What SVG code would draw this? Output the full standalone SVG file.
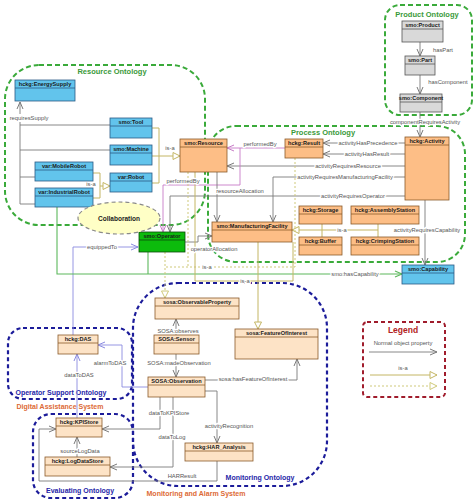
<svg xmlns="http://www.w3.org/2000/svg" width="474" height="503" viewBox="0 0 474 503">
<style>
.n text{font-family:"Liberation Sans",Arial,sans-serif;font-weight:bold;font-size:5.6px;fill:#1a1a1a;text-anchor:middle}
.n rect,.n path{stroke-width:0.8}
.nb rect{fill:#62c4ec;stroke:#2b5b86}.nb path{stroke:#2b5b86}
.no rect{fill:#fdbe86;stroke:#8a5a2a}.no path{stroke:#8a5a2a}
.ng rect{fill:#d9d9d9;stroke:#555}.ng path{stroke:#555}
.np rect{fill:#fde3c6;stroke:#8a5a2a}.np path{stroke:#8a5a2a}
.nop rect{fill:#0cbb0c;stroke:#0a4a0a}.nop path{stroke:#0a4a0a}
.lb{font-family:"Liberation Sans",Arial,sans-serif;font-size:5.8px;fill:#555;text-anchor:middle;paint-order:stroke;stroke:#fff;stroke-width:2.5px;stroke-linejoin:round}
.tg{font-family:"Liberation Sans",Arial,sans-serif;font-weight:bold;font-size:7.5px;fill:#3a9a3a;text-anchor:middle}
.tb{font-family:"Liberation Sans",Arial,sans-serif;font-weight:bold;font-size:7px;fill:#2626a8;text-anchor:middle}
.tr{font-family:"Liberation Sans",Arial,sans-serif;font-weight:bold;font-size:7px;fill:#dd6a36;text-anchor:middle}
.bg{fill:none;stroke:#3aaa3a;stroke-width:2;stroke-dasharray:5,3}
.bb{fill:none;stroke:#1c1c9a;stroke-width:2.2;stroke-dasharray:4,3}
.cg{stroke:#7a7a7a;stroke-width:0.9}
.cp{stroke:#c77cc7;stroke-width:0.9}
.cb{stroke:#8a8ae0;stroke-width:0.9}
.cgr{stroke:#5cb85c;stroke-width:1.1}
.co{stroke:#c4b664;stroke-width:1}
.cd{stroke:#cfc97a;stroke-width:1;stroke-dasharray:2,2}
</style>
<defs>
<marker id="ag" markerUnits="userSpaceOnUse" markerWidth="10" markerHeight="8" refX="8" refY="4" orient="auto"><path d="M1 1L8 4L1 7" fill="none" stroke="#7a7a7a" stroke-width="1"/></marker>
<marker id="ap" markerUnits="userSpaceOnUse" markerWidth="10" markerHeight="8" refX="8" refY="4" orient="auto"><path d="M1 1L8 4L1 7" fill="none" stroke="#c77cc7" stroke-width="1"/></marker>
<marker id="ab" markerUnits="userSpaceOnUse" markerWidth="10" markerHeight="8" refX="8" refY="4" orient="auto"><path d="M1 1L8 4L1 7" fill="none" stroke="#8a8ae0" stroke-width="1"/></marker>
<marker id="agr" markerUnits="userSpaceOnUse" markerWidth="10" markerHeight="8" refX="8" refY="4" orient="auto"><path d="M1 1L8 4L1 7" fill="none" stroke="#5cb85c" stroke-width="1.1"/></marker>
<marker id="tri" markerUnits="userSpaceOnUse" markerWidth="10" markerHeight="9" refX="8" refY="4.5" orient="auto"><path d="M1 1L8 4.5L1 8Z" fill="#fff" stroke="#c4b664" stroke-width="1"/></marker>
<marker id="trd" markerUnits="userSpaceOnUse" markerWidth="10" markerHeight="9" refX="8" refY="4.5" orient="auto"><path d="M1 1L8 4.5L1 8Z" fill="#fff" stroke="#cfc97a" stroke-width="1"/></marker>
</defs>
<rect width="474" height="503" fill="#fff"/>

<g id="boundaries">
<rect class="bg" x="5" y="65" width="200" height="160" rx="34"/>
<text class="tg" x="112" y="74">Resource Ontology</text>
<rect class="bg" x="385" y="5" width="87" height="110" rx="15"/>
<text class="tg" x="427" y="17">Product Ontology</text>
<rect class="bg" x="208" y="126" width="257" height="136" rx="28"/>
<text class="tg" x="323" y="135">Process Ontology</text>
<rect class="bb" x="133" y="283" width="194" height="203" rx="45"/>
<text class="tb" x="260" y="479.5">Monitoring Ontology</text>
<text class="tr" x="196" y="495.5">Monitoring and Alarm System</text>
<rect class="bb" x="8" y="328" width="124" height="71" rx="15"/>
<text class="tb" x="61" y="394.5">Operator Support Ontology</text>
<text class="tr" x="60" y="408.5">Digital Assistance System</text>
<rect class="bb" x="33" y="414" width="100" height="84" rx="18"/>
<text class="tb" x="80" y="492.5">Evaluating Ontology</text>
</g>

<g id="legend">
<rect x="363" y="322" width="82" height="75" rx="4" fill="none" stroke="#a01c2c" stroke-width="2" stroke-dasharray="4,3"/>
<text x="403" y="333" font-family="Liberation Sans, Arial, sans-serif" font-weight="bold" font-size="8.5" fill="#b22222" text-anchor="middle">Legend</text>
<text class="lb" x="403" y="345">Normal object property</text>
<path class="cg" d="M369 352H437" fill="none" marker-end="url(#ag)"/>
<text class="lb" x="403" y="370">is-a</text>
<path class="co" d="M370 375H437" fill="none" marker-end="url(#tri)"/>
<path class="cd" d="M370 386H437" fill="none" marker-end="url(#trd)"/>
</g>

<g id="connectors" fill="none">
<path class="cg" d="M20 114V102" marker-end="url(#ag)"/>
<path class="cg" d="M20 122V204H35M20 125H110M20 150H110M20 177H35"/>
<path class="co" d="M93 173H100V198H93M100 186H110" marker-end="url(#tri)"/>
<path class="co" d="M152 128H159V183H152M152 156H180" stroke-width="1.4" marker-end="url(#tri)"/>
<path class="cg" d="M420 42V56" marker-end="url(#ag)"/>
<path class="cg" d="M420 75V94" marker-end="url(#ag)"/>
<path class="cg" d="M420 112V137" marker-end="url(#ag)"/>
<path class="cg" d="M405 143H323" marker-end="url(#ag)"/>
<path class="cg" d="M405 154H323" marker-end="url(#ag)"/>
<path class="cg" d="M405 166H227" marker-end="url(#ag)"/>
<path class="cg" d="M405 177H273V222" marker-end="url(#ag)"/>
<path class="cg" d="M405 196H170V232" marker-end="url(#ag)"/>
<path class="cg" d="M425 200V265" marker-end="url(#ag)"/>
<path class="cp" d="M285 148H227" marker-end="url(#ap)"/>
<path class="cp" d="M240 148V185H163V232" marker-end="url(#ap)"/>
<path class="cg" d="M217 172V222" marker-end="url(#ag)"/>
<path class="cg" d="M185 242H198V236H212" marker-end="url(#ag)"/>
<path class="cb" d="M73 335V247H138" marker-end="url(#ab)"/>
<path class="co" d="M322 224V237M378 224V237M378 230H292" marker-end="url(#tri)"/>
<path class="cgr" d="M148 252V274"/>
<path class="cgr" d="M57 207V274H402" marker-end="url(#agr)"/>
<path class="cd" d="M188 172V267M295 158V267H165M165 252V298" marker-end="url(#trd)"/>
<path class="co" d="M195 172V281H293V242"/>
<path class="co" d="M258 242V329" marker-end="url(#tri)"/>
<path class="cg" d="M176 335V319" marker-end="url(#ag)"/>
<path class="cg" d="M176 354V377" marker-end="url(#ag)"/>
<path class="cg" d="M205 380H297V359" marker-end="url(#ag)"/>
<path class="cg" d="M205 391H217V443" marker-end="url(#ag)"/>
<path class="cg" d="M217 461V481H39V429H56" marker-end="url(#ag)"/>
<path class="cg" d="M160 397V429H102" marker-end="url(#ag)"/>
<path class="cg" d="M173 397V467H110" marker-end="url(#ag)"/>
<path class="cg" d="M77 457V437" marker-end="url(#ag)"/>
<path class="cb" d="M148 387H122V345H98" marker-end="url(#ab)"/>
<path class="cb" d="M77 418V354" marker-end="url(#ab)"/>
</g>

<g id="connector-labels">
<text class="lb" x="29" y="120">requiresSupply</text>
<text class="lb" x="91" y="186">is-a</text>
<text class="lb" x="170" y="150">is-a</text>
<text class="lb" x="443" y="52">hasPart</text>
<text class="lb" x="448" y="84">hasComponent</text>
<text class="lb" x="425" y="124">componentRequiresActivity</text>
<text class="lb" x="368" y="145">activityHasPrecedence</text>
<text class="lb" x="367" y="156">activityHasResult</text>
<text class="lb" x="348" y="168">activityRequiresResource</text>
<text class="lb" x="345" y="179">activityRequiresManufacturingFacility</text>
<text class="lb" x="353" y="198">activityRequiresOperator</text>
<text class="lb" x="427" y="232">activityRequiresCapability</text>
<text class="lb" x="260" y="146">performedBy</text>
<text class="lb" x="183" y="183">performedBy</text>
<text class="lb" x="240" y="193">resourceAllocation</text>
<text class="lb" x="214" y="251">operatorAllocation</text>
<text class="lb" x="102" y="249">equippedTo</text>
<text class="lb" x="342" y="232">is-a</text>
<text class="lb" x="355" y="276">smo:hasCapability</text>
<text class="lb" x="207" y="269">is-a</text>
<text class="lb" x="245" y="283">is-a</text>
<text class="lb" x="178" y="333">SOSA:observes</text>
<text class="lb" x="179" y="365">SOSA:madeObservation</text>
<text class="lb" x="253" y="381">sosa:hasFeatureOfInterest</text>
<text class="lb" x="229" y="428">activityRecognition</text>
<text class="lb" x="182" y="478">HARResult</text>
<text class="lb" x="169" y="415">dataToKPIStore</text>
<text class="lb" x="172" y="439">dataToLog</text>
<text class="lb" x="80" y="453">sourceLogData</text>
<text class="lb" x="110" y="365">alarmToDAS</text>
<text class="lb" x="79" y="377">dataToDAS</text>
</g>

<g id="n-energysupply" class="n nb"><rect x="15" y="80" width="60" height="21"/><path d="M15 88h60"/><text x="45" y="86">hckg:EnergySupply</text></g>
<g id="n-tool" class="n nb"><rect x="110" y="118" width="42" height="20"/><path d="M110 126h42"/><text x="131" y="124">smo:Tool</text></g>
<g id="n-machine" class="n nb"><rect x="110" y="145" width="42" height="20"/><path d="M110 153h42"/><text x="131" y="151">smo:Machine</text></g>
<g id="n-robot" class="n nb"><rect x="110" y="173" width="42" height="19"/><path d="M110 181h42"/><text x="131" y="179">var:Robot</text></g>
<g id="n-mobilerobot" class="n nb"><rect x="35" y="162" width="58" height="19"/><path d="M35 170h58"/><text x="64" y="168">var:MobileRobot</text></g>
<g id="n-industrialrobot" class="n nb"><rect x="35" y="188" width="58" height="19"/><path d="M35 196h58"/><text x="64" y="194">var:IndustrialRobot</text></g>
<g id="n-capability" class="n nb"><rect x="402" y="265" width="52" height="19"/><path d="M402 273h52"/><text x="428" y="271">smo:Capability</text></g>

<g id="n-resource" class="n no"><rect x="180" y="139" width="47" height="33"/><path d="M180 147h47"/><text x="203.5" y="145">smo:Resource</text></g>
<g id="n-result" class="n no"><rect x="285" y="139" width="38" height="19"/><path d="M285 147h38"/><text x="304" y="145">hckg:Result</text></g>
<g id="n-activity" class="n no"><rect x="405" y="137" width="44" height="63"/><path d="M405 145h44"/><text x="427" y="143">hckg:Activity</text></g>
<g id="n-mfg" class="n no"><rect x="212" y="222" width="80" height="20"/><path d="M212 230h80"/><text x="252" y="228">smo:ManufacturingFacility</text></g>
<g id="n-storage" class="n no"><rect x="299" y="206" width="43" height="18"/><path d="M299 214h43"/><text x="320.5" y="212">hckg:Storage</text></g>
<g id="n-assembly" class="n no"><rect x="351" y="206" width="68" height="18"/><path d="M351 214h68"/><text x="385" y="212">hckg:AssemblyStation</text></g>
<g id="n-buffer" class="n no"><rect x="299" y="237" width="43" height="18"/><path d="M299 245h43"/><text x="320.5" y="243">hckg:Buffer</text></g>
<g id="n-crimping" class="n no"><rect x="351" y="237" width="68" height="18"/><path d="M351 245h68"/><text x="385" y="243">hckg:CrimpingStation</text></g>

<g id="n-product" class="n ng"><rect x="402" y="21" width="41" height="21"/><path d="M402 29h41"/><text x="422.5" y="27">smo:Product</text></g>
<g id="n-part" class="n ng"><rect x="405" y="56" width="30" height="19"/><path d="M405 64h30"/><text x="420" y="62">smo:Part</text></g>
<g id="n-component" class="n ng"><rect x="400" y="94" width="42" height="18"/><path d="M400 102h42"/><text x="421" y="100">smo:Component</text></g>

<g id="n-operator" class="n nop"><rect x="139" y="232" width="46" height="20"/><path d="M139 240h46"/><text x="162" y="238">smo:Operator</text></g>

<g id="n-obsprop" class="n np"><rect x="155" y="298" width="84" height="21"/><path d="M155 306h84"/><text x="197" y="304">sosa:ObservableProperty</text></g>
<g id="n-sensor" class="n np"><rect x="154" y="335" width="45" height="19"/><path d="M154 343h45"/><text x="176.5" y="341">SOSA:Sensor</text></g>
<g id="n-observation" class="n np"><rect x="148" y="377" width="57" height="20"/><path d="M148 385h57"/><text x="176.5" y="383">SOSA:Observation</text></g>
<g id="n-foi" class="n np"><rect x="235" y="329" width="83" height="30"/><path d="M235 337h83"/><text x="276.5" y="335">sosa:FeatureOfInterest</text></g>
<g id="n-har" class="n np"><rect x="185" y="443" width="68" height="18"/><path d="M185 451h68"/><text x="219" y="449">hckg:HAR_Analysis</text></g>
<g id="n-das" class="n np"><rect x="58" y="335" width="40" height="19"/><path d="M58 343h40"/><text x="78" y="341">hckg:DAS</text></g>
<g id="n-kpistore" class="n np"><rect x="56" y="418" width="46" height="19"/><path d="M56 426h46"/><text x="79" y="424">hckg:KPIStore</text></g>
<g id="n-logdatastore" class="n np"><rect x="45" y="457" width="65" height="19"/><path d="M45 465h65"/><text x="77.5" y="463">hckg:LogDataStore</text></g>

<g id="n-collaboration">
<ellipse cx="119" cy="218" rx="41" ry="16" fill="#ffffc6" stroke="#8a8a8a" stroke-width="1.2" stroke-dasharray="4,3"/>
<text x="119" y="220.5" font-family="Liberation Sans, Arial, sans-serif" font-weight="bold" font-size="6.5" fill="#222" text-anchor="middle">Collaboration</text>
</g>
</svg>
